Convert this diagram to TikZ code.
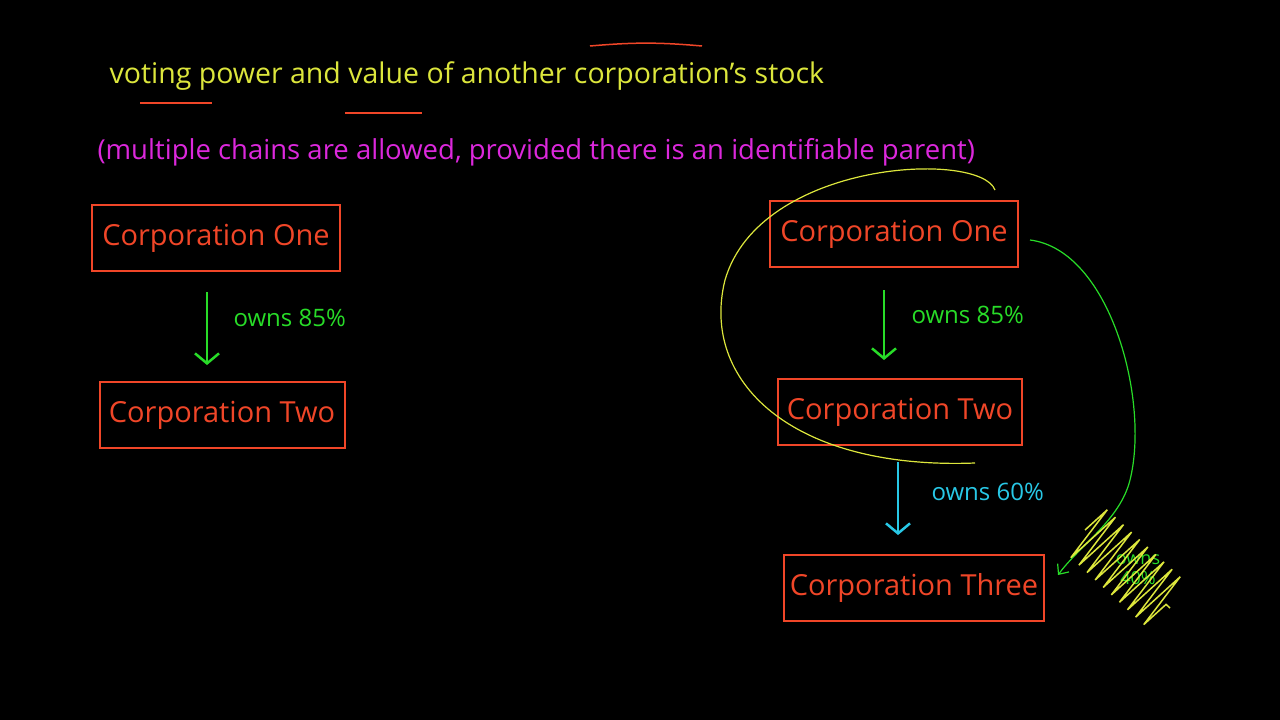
\documentclass[tikz,border=0pt]{standalone}
\usepackage{fontspec}
\setmainfont{Open Sans}
\usetikzlibrary{arrows.meta,decorations.pathmorphing}
\definecolor{cred}{RGB}{240,70,40}
\definecolor{cyel}{RGB}{220,230,60}
\definecolor{cmag}{RGB}{220,40,220}
\definecolor{cgrn}{RGB}{40,220,40}
\definecolor{ccyan}{RGB}{40,200,230}
\tikzset{
 corp/.style={draw=cred,line width=2pt,text=cred,font=\fontsize{29}{32}\selectfont,minimum height=66pt,inner xsep=6pt},
 ownarrow/.style={line width=2.5pt,-{Straight Barb[length=10pt,width=24pt]}},
 lbl/.style={font=\fontsize{24}{26}\selectfont,anchor=west}
}
\begin{document}
\begin{tikzpicture}[x=1pt,y=-1pt]
\fill[black] (0,0) rectangle (1280,720);
\useasboundingbox (0,0) rectangle (1280,720);
\node[text=cyel,font=\fontsize{28.5}{30}\selectfont,anchor=west] (title) at (106,76) {voting power and value of another corporation's stock};
\coordinate (u1a) at (140,103); \coordinate (u1b) at (212,103);
\draw[cred,line width=1.5pt] (u1a) -- (u1b);
\coordinate (u2a) at (345,113); \coordinate (u2b) at (422,113);
\draw[cred,line width=1.5pt] (u2a) -- (u2b);
\coordinate (u3a) at (590,46); \coordinate (u3b) at (702,46);
\draw[cred,line width=1.5pt] (u3a) to[bend left=5] (u3b);
\node[text=cmag,font=\fontsize{27.5}{30}\selectfont,anchor=west] (sub) at (94,152) {(multiple chains are allowed, provided there is an identifiable parent)};
% left
\node[corp,minimum width=248pt] (L1) at (216,238) {Corporation One};
\node[corp,minimum width=245pt] (L2) at (222,415) {Corporation Two};
\coordinate (la) at (207,292); \coordinate (lb) at (207,365);
\draw[cgrn,ownarrow] (la) -- (lb);
\node[lbl,text=cgrn] (l85) at (230,318) {owns 85\%};
% right
\node[corp,minimum width=248pt] (R1) at (894,234) {Corporation One};
\node[corp,minimum width=244pt] (R2) at (900,412) {Corporation Two};
\node[corp,minimum width=245pt] (R3) at (914,588) {Corporation Three};
\coordinate (ra) at (884,290); \coordinate (rb) at (884,360);
\draw[cgrn,ownarrow] (ra) -- (rb);
\node[lbl,text=cgrn] (r85) at (908,315) {owns 85\%};
\coordinate (rc) at (898,462); \coordinate (rd) at (898,535);
\draw[ccyan,ownarrow] (rc) -- (rd);
\node[lbl,text=ccyan] (r60) at (928,492) {owns 60\%};
% yellow loop
\coordinate (ya) at (995,190); \coordinate (yb) at (975,463);
\draw[cyel,line width=1.2pt] (ya) .. controls (980,150) and (760,160) .. (725,280)
  .. controls (700,380) and (790,470) .. (yb);
% green curve
\coordinate (gs) at (1030,240); \coordinate (ge) at (1058,575);
\draw[cgrn,line width=1.2pt,-{Straight Barb[length=8pt,width=14pt]}] (gs) .. controls (1110,250) and (1150,400) .. (1130,480) .. controls (1120,520) and (1080,545) .. (ge);
\node[text=cgrn,font=\fontsize{18}{20}\selectfont,align=center] (g40) at (1138,570) {owns\\40\%};
\coordinate (sa) at (1085,530); \coordinate (sb) at (1170,608);
\draw[cyel,line width=1.5pt,decorate,decoration={zigzag,segment length=11pt,amplitude=30pt}] (sa) -- (sb);
\end{tikzpicture}
\end{document}
